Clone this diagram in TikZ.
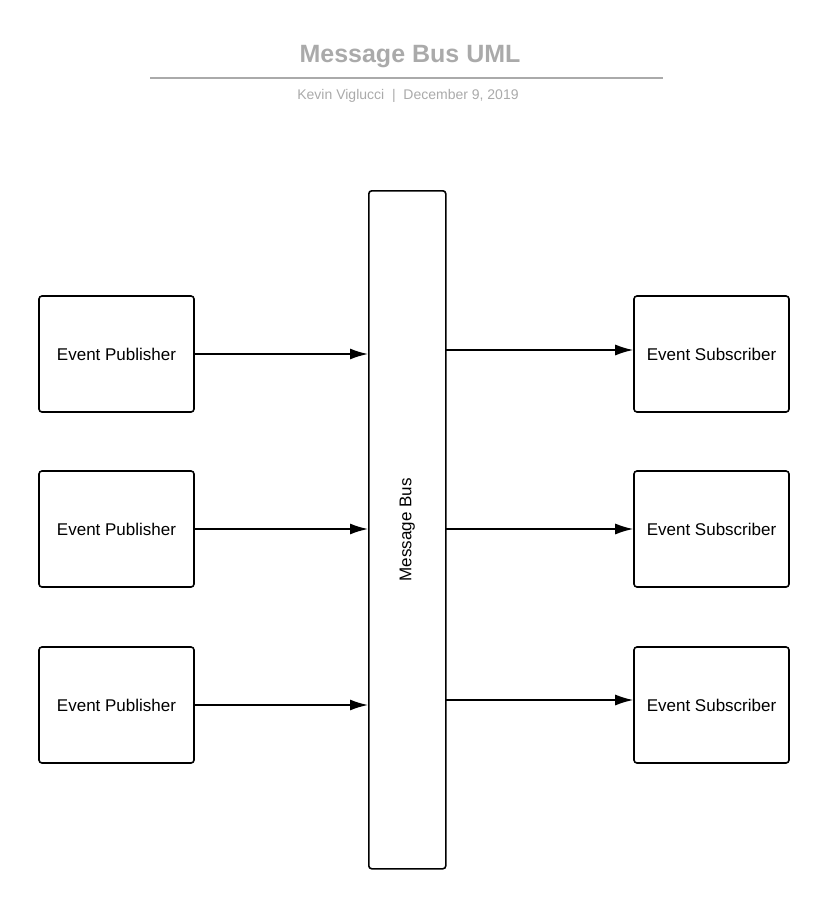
\documentclass[tikz,border=0pt]{standalone}
\usepackage{fontspec}
\setmainfont{Liberation Sans}
\usetikzlibrary{arrows.meta,positioning}
\definecolor{titlegray}{RGB}{170,170,170}
\tikzset{
  box/.style={draw, line width=1.6pt, rounded corners=3pt, minimum width=155pt, minimum height=116pt, font=\fontsize{17}{20}\selectfont},
  msg/.style={-{Latex[length=18pt,width=11pt]}, line width=1.5pt}
}
\begin{document}
\begin{tikzpicture}[x=1pt,y=-1pt]
        \useasboundingbox (0,0) rectangle (828,908);
        % Title block
        \node[text=titlegray, font=\bfseries\fontsize{25}{30}\selectfont] (title) at (410,57) {Message Bus UML};
        \draw[titlegray, line width=1.5pt] (150,78) -- (663,78);
        \node[text=titlegray, font=\fontsize{14}{17}\selectfont] (sub) at (408,96) {Kevin Viglucci \ | \ December 9, 2019};

        % The bus
        \node[draw, line width=1.6pt, rounded corners=3pt, minimum width=77pt, minimum height=678pt, anchor=north west] (bus) at (368,190) {};
        \node[rotate=90, font=\fontsize{17}{20}\selectfont] at (bus.center) {Message Bus};

        % Publishers and subscribers
        \node[box] (pub1) at (116.5,354) {Event Publisher};
        \node[box] (pub2) at (116.5,529) {Event Publisher};
        \node[box] (pub3) at (116.5,705) {Event Publisher};
        \node[box] (sub1) at (711.5,354) {Event Subscriber};
        \node[box] (sub2) at (711.5,529) {Event Subscriber};
        \node[box] (sub3) at (711.5,705) {Event Subscriber};

        % Messages in
        \foreach \p in {pub1,pub2,pub3}
          \draw[msg] (\p.east) -- (\p.east -| bus.west);

        % Messages out
        \coordinate (o1) at (445,350);
        \coordinate (o2) at (445,529);
        \coordinate (o3) at (445,700);
        \foreach \i in {1,2,3}
          \draw[msg] (o\i) -- (o\i -| sub\i.west);
\end{tikzpicture}
\end{document}
